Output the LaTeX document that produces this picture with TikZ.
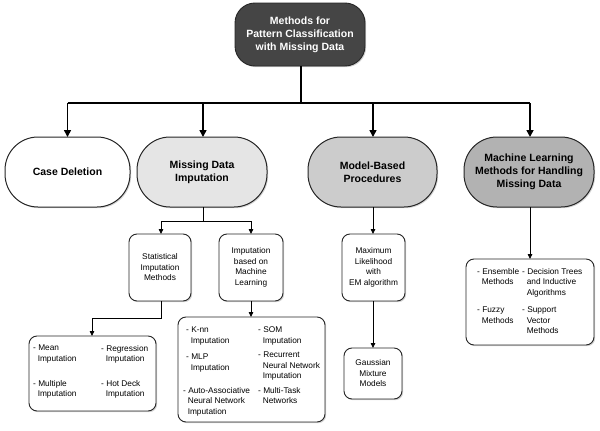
\documentclass[tikz,border=0pt]{standalone}
\usepackage{fontspec}
\setmainfont{Liberation Sans}
\usetikzlibrary{shadows,arrows.meta}
\begin{document}
\begin{tikzpicture}[x=1pt,y=-1pt,
  box/.style={draw=black!85,line width=0.9pt,rounded corners=8pt,fill=white,
    drop shadow={shadow xshift=1.2pt,shadow yshift=-1.2pt,opacity=0.35}},
  big/.style={box,rounded corners=33pt,line width=1pt},
  bt/.style={font=\fontsize{10.5}{13}\selectfont\bfseries,align=center},
  st/.style={font=\fontsize{8.3}{10.5}\selectfont,align=center},
  it/.style={font=\fontsize{8.3}{10.5}\selectfont,align=left,anchor=north west,inner sep=0pt},
  arr/.style={-{Triangle[length=7pt,width=7pt]},line width=1.6pt},
  sarr/.style={-{Triangle[length=5pt,width=4.5pt]},line width=0.8pt}]
\useasboundingbox (0,0) rectangle (600,431);
% top
\draw[box,rounded corners=20pt,fill=black!73] (235,3) rectangle (365,66);
\node[bt,text=white] (top) at (300,34.5) {Methods for\\Pattern Classification\\with Missing Data};
% level 2
\draw[big] (5,137) rectangle (130,207);
\node[bt] (cd) at (67.5,172) {Case Deletion};
\draw[big,fill=black!10] (137,137) rectangle (267,207);
\node[bt] (mdi) at (202,172) {Missing Data\\Imputation};
\draw[big,fill=black!20] (308,137) rectangle (437,207);
\node[bt] (mb) at (372.5,172) {Model-Based\\Procedures};
\draw[big,fill=black!30] (464,137) rectangle (594,207);
\node[bt] (mlm) at (529,172) {Machine Learning\\Methods for Handling\\Missing Data};
\coordinate (topb) at (301,66);
\coordinate (bus) at (301,103);
\draw[line width=1.6pt] (topb) -- (bus);
\draw[line width=1.6pt] (67.5,103) -- (530,103);
\draw[arr] (67.5,103) -- (67.5,137);
\draw[arr] (203,103) -- (203,137);
\draw[arr] (373,103) -- (373,137);
\draw[arr] (530,103) -- (530,137);
% level 3
\draw[box] (129,234) rectangle (191,301);
\node[st] (stat) at (160,267.5) {Statistical\\Imputation\\Methods};
\draw[box] (219,234) rectangle (283,301);
\node[st] (iml) at (251,267.5) {Imputation\\based on\\Machine\\Learning};
\draw[box] (342,234) rectangle (405,301);
\node[st] (mle) at (373.5,267.5) {Maximum\\Likelihood\\with\\EM algorithm};
\draw[line width=0.8pt] (203,207) -- (203,221);
\draw[line width=0.8pt] (161,221) -- (251,221);
\draw[sarr] (161,221) -- (161,234);
\draw[sarr] (251,221) -- (251,234);
\draw[sarr] (373,207) -- (373,234);
\draw[sarr] (530,207) -- (530,259);
% lists
\draw[box] (29,336) rectangle (156,411);
\draw[sarr] (161,301) |- (92,318) -- (92,336);
\node[it] (m1) at (33,345) {- Mean\\\hspace{0.55em}Imputation};
\node[it] (m2) at (33,380) {- Multiple\\\hspace{0.55em}Imputation};
\node[it] (m3) at (101,345) {- Regression\\\hspace{0.55em}Imputation};
\node[it] (m4) at (101,380) {- Hot Deck\\\hspace{0.55em}Imputation};
\draw[box] (178,317) rectangle (325,422);
\draw[sarr] (251,301) -- (251,317);
\node[it] (k1) at (186,327) {- K-nn\\\hspace{0.55em}Imputation};
\node[it] (k2) at (186,354) {- MLP\\\hspace{0.55em}Imputation};
\node[it] (k3) at (183,387) {- Auto-Associative\\\hspace{0.55em}Neural Network\\\hspace{0.55em}Imputation};
\node[it] (k4) at (258,327) {- SOM\\\hspace{0.55em}Imputation};
\node[it] (k5) at (258,352) {- Recurrent\\\hspace{0.55em}Neural Network\\\hspace{0.55em}Imputation};
\node[it] (k6) at (258,387) {- Multi-Task\\\hspace{0.55em}Networks};
\draw[box] (344,348) rectangle (402,399);
\node[st] (gmm) at (373,373.5) {Gaussian\\Mixture\\Models};
\draw[sarr] (373,301) -- (373,348);
\draw[box] (466,259) rectangle (594,345);
\node[it] (e1) at (477,268) {- Ensemble\\\hspace{0.55em}Methods};
\node[it] (e2) at (477,307) {- Fuzzy\\\hspace{0.55em}Methods};
\node[it] (e3) at (522,268) {- Decision Trees\\\hspace{0.55em}and Inductive\\\hspace{0.55em}Algorithms};
\node[it] (e4) at (522,307) {- Support\\\hspace{0.55em}Vector\\\hspace{0.55em}Methods};
\end{tikzpicture}
\end{document}
